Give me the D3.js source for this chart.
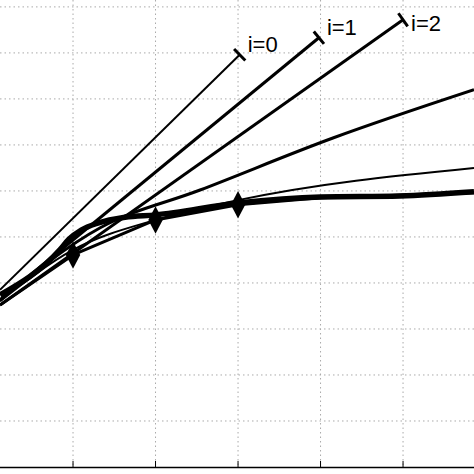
<!DOCTYPE html><html><head><script src="https://cdn.jsdelivr.net/npm/d3@7"></script>
<style>body{margin:0;background:#fff}</style></head><body><svg id="c" width="474" height="474"></svg>
<script>
const xTicks=[1,2,3,4,5], yTicks=[1,2,3,4,5,6,7,8,9,10];
const lineI0=[[0.115,3.85],[3.02,8.96]];
const lineI1=[[0.115,3.63],[3.98,9.33]];
const lineI2=[[0.115,3.52],[5.0,9.72]];
const line4=[[0.115,3.63],[1.33,5.2],[2.54,6.02],[4.15,7.15],[5.86,8.2]];
const line5=[[0.115,3.6],[1,4.72],[2,5.37],[3,5.8],[5.86,6.5]];
const thick=[[0.115,3.74],[0.84,4.72],[0.95,4.95],[1.1,5.15],[1.3,5.3],[1.63,5.43],[2,5.48],[3,5.74],[4,5.87],[4.96,5.89],[5.86,5.98]];
const diam=[[0.115,3.52],[1,4.61],[2,5.37],[3,5.7],[4,5.85],[5.86,5.96]];
const diamPts=[[1,4.61],[2,5.37],[3,5.7]];
const labels=[["i=0",lineI0],["i=1",lineI1],["i=2",lineI2]];
const svg=d3.select("#c");
const x=d3.scaleLinear().domain([0.115,5.86]).range([0,474]);
const y=d3.scaleLinear().domain([0,10.15]).range([467,0]);
const g=svg.append("g");
g.selectAll(".vx").data(xTicks).join("line").attr("x1",d=>x(d)).attr("x2",d=>x(d)).attr("y1",0).attr("y2",467).attr("stroke","#aaa").attr("stroke-dasharray","1.5,3");
g.selectAll(".hy").data(yTicks).join("line").attr("y1",d=>y(d)).attr("y2",d=>y(d)).attr("x1",0).attr("x2",474).attr("stroke","#aaa").attr("stroke-dasharray","1.5,3");
svg.append("line").attr("x1",0).attr("x2",474).attr("y1",467.5).attr("y2",467.5).attr("stroke","#000").attr("stroke-width",1.5);
svg.selectAll(".tk").data(xTicks).join("line").attr("x1",d=>x(d)).attr("x2",d=>x(d)).attr("y1",467).attr("y2",461).attr("stroke","#000");
const ln=d3.line().x(d=>x(d[0])).y(d=>y(d[1])).curve(d3.curveMonotoneX);
const draw=(d,w)=>svg.append("path").attr("d",ln(d)).attr("fill","none").attr("stroke","#000").attr("stroke-width",w).attr("stroke-linejoin","round");
draw(lineI0,2);draw(lineI1,3);draw(lineI2,3);draw(line4,3);draw(line5,2);
svg.append("path").attr("d",d3.line().x(d=>x(d[0])).y(d=>y(d[1]))(diam)).attr("fill","none").attr("stroke","#000").attr("stroke-width",3);
draw(thick,5.5);
labels.forEach(([t,d])=>{
 const a=d[0],b=d[1];const x1=x(a[0]),y1=y(a[1]),x2=x(b[0]),y2=y(b[1]);
 const L=Math.hypot(x2-x1,y2-y1),nx=-(y2-y1)/L,ny=(x2-x1)/L;
 svg.append("line").attr("x1",x2+nx*8).attr("y1",y2+ny*8).attr("x2",x2-nx*8).attr("y2",y2-ny*8).attr("stroke","#000").attr("stroke-width",3);
 svg.append("text").attr("x",x2+8).attr("y",Math.max(y2-3,31)).attr("font-family","Liberation Sans, Arial").attr("font-size",22).text(t);
});
svg.selectAll(".dm").data(diamPts).join("path").attr("d",d3.symbol(d3.symbolDiamond,180)).attr("transform",d=>`translate(${x(d[0])},${y(d[1])}) scale(1,1.1)`).attr("fill","#000");
</script></body></html>
